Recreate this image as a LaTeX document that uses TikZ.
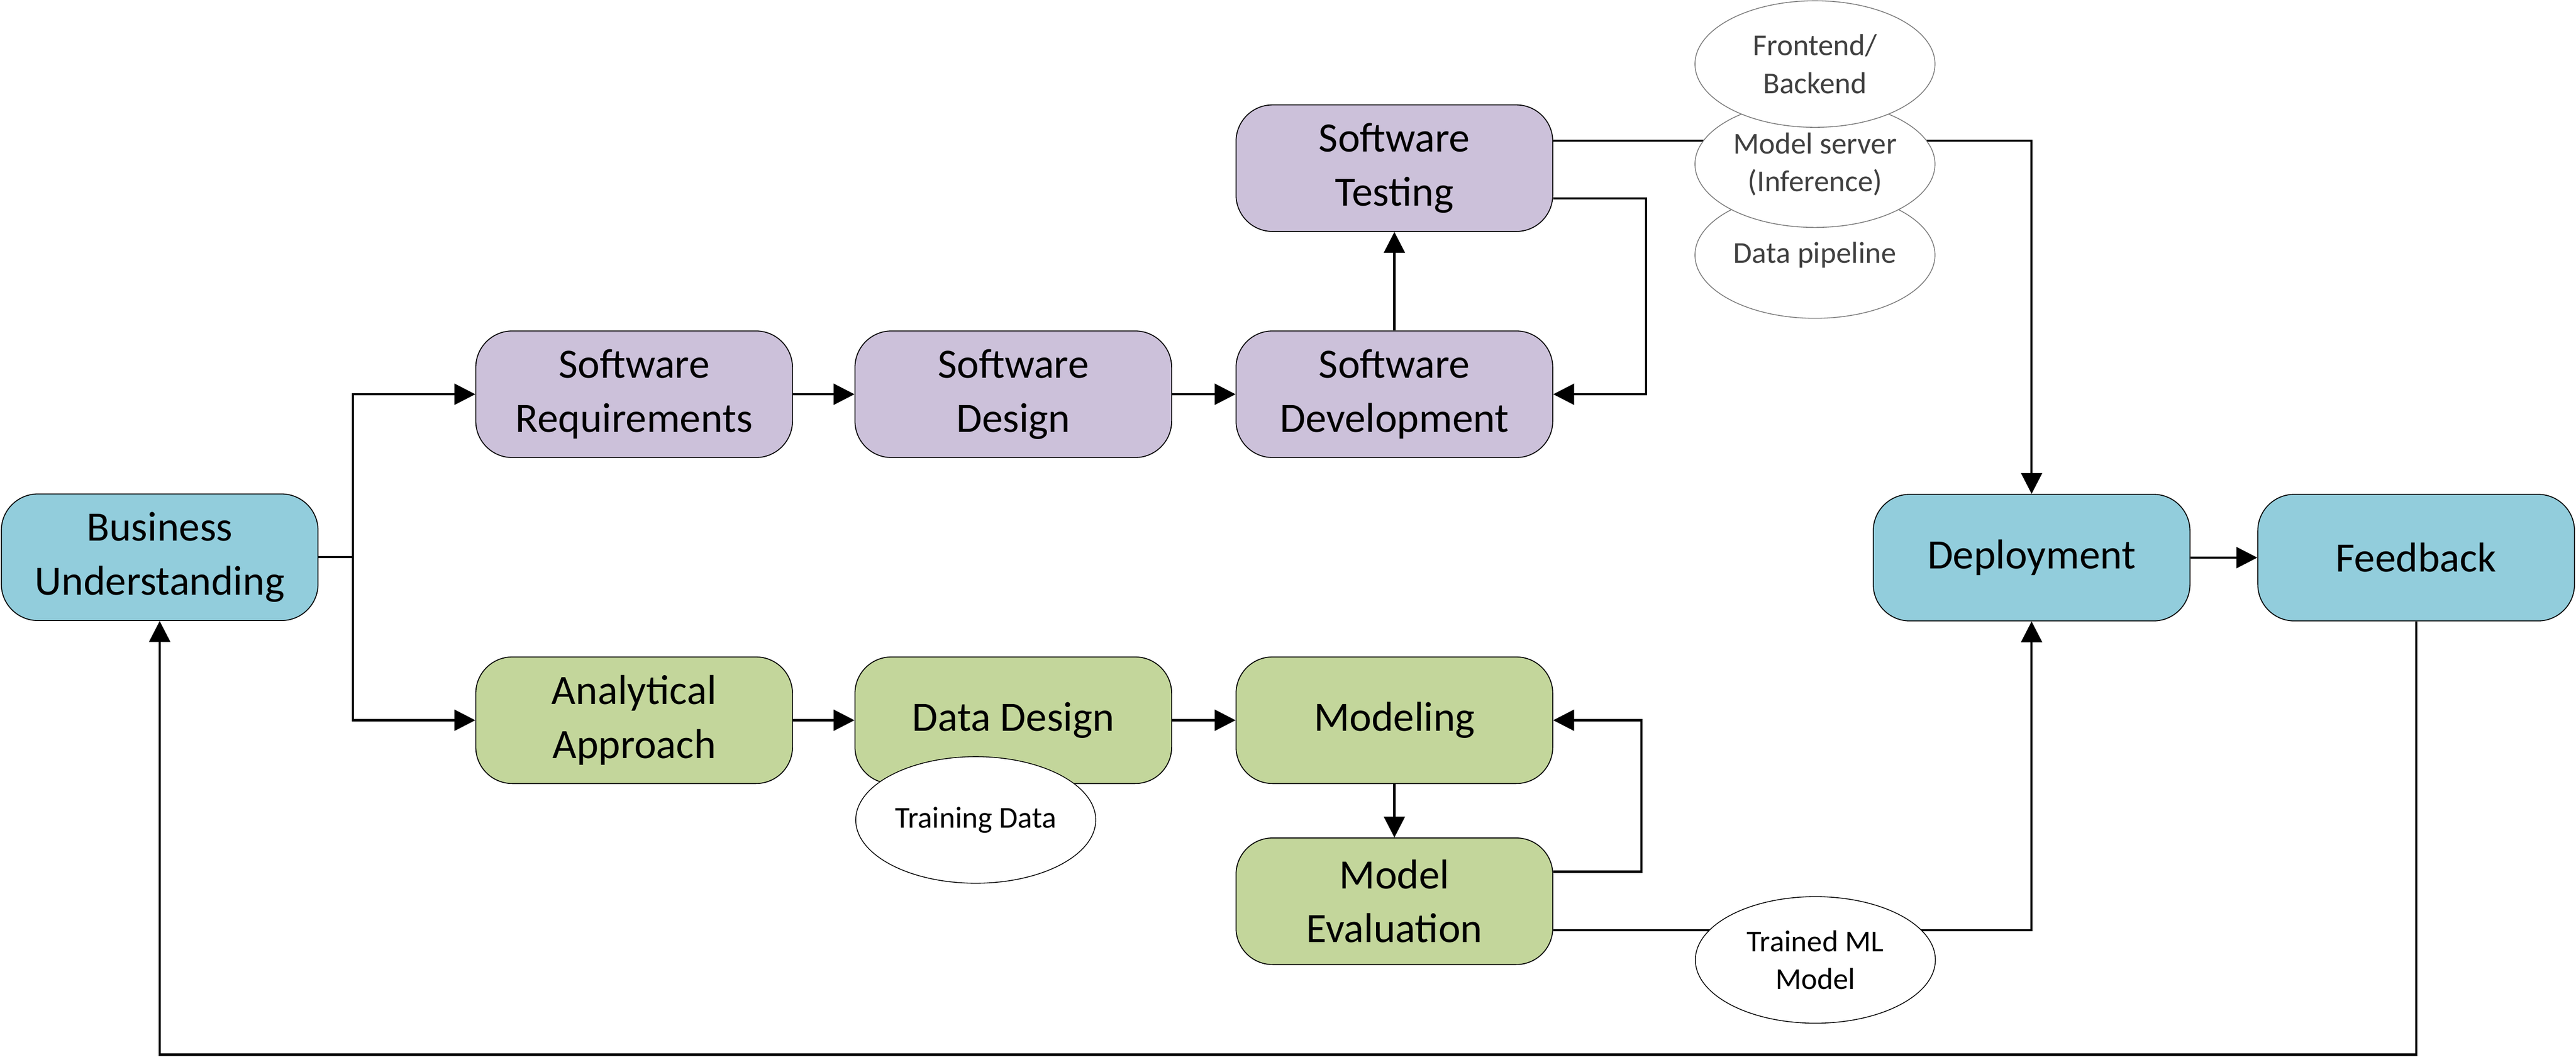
\documentclass[tikz,border=0pt]{standalone}
\usepackage{fontspec}
\setmainfont{Carlito}
\usetikzlibrary{arrows.meta,shapes.geometric,positioning}
\definecolor{mlpurple}{RGB}{204,193,218}
\definecolor{mlgreen}{RGB}{195,214,155}
\definecolor{mlblue}{RGB}{146,205,220}
\definecolor{mlgray}{RGB}{64,64,64}
\tikzstyle{arrow} = [line width=1.6pt,-{Triangle[length=15.5pt,width=15.5pt]}]
\tikzstyle{link} = [line width=1.6pt]
\tikzstyle{stage} = [draw, line width=0.7pt, rounded corners=0.95cm, minimum width=8.26cm, minimum height=3.3cm, align=center, font=\fontsize{31}{40}\selectfont]
\tikzstyle{artifact} = [ellipse, draw, fill=white, line width=0.6pt, minimum width=6.26cm, minimum height=3.3cm, inner sep=0pt, align=center, font=\fontsize{22.5}{28}\selectfont]

\begin{document}
\begin{tikzpicture}
\useasboundingbox (0,0) rectangle (67.19,-27.56);

% Stages
\node[stage, fill=mlblue] (bu) at (4.165,-14.53) {Business\\Understanding};
\node[stage, fill=mlpurple] (req) at (16.54,-10.28) {Software\\Requirements};
\node[stage, fill=mlpurple] (sd) at (26.43,-10.28) {Software\\Design};
\node[stage, fill=mlpurple] (dev) at (36.37,-10.28) {Software\\Development};
\node[stage, fill=mlpurple] (test) at (36.37,-4.385) {Software\\Testing};
\node[stage, fill=mlgreen] (ana) at (16.54,-18.78) {Analytical\\Approach};
\node[stage, fill=mlgreen] (dd) at (26.43,-18.78) {Data Design};
\node[stage, fill=mlgreen] (mod) at (36.37,-18.78) {Modeling};
\node[stage, fill=mlgreen] (eval) at (36.37,-23.50) {Model\\Evaluation};
\node[stage, fill=mlblue] (dep) at (52.99,-14.54) {Deployment};
\node[stage, fill=mlblue] (fb) at (63.02,-14.54) {Feedback};

% Connectors
\coordinate (split) at (9.2,-14.53);
\draw[link] (bu.east) -- (split);
\draw[arrow] (split) |- (req.west);
\draw[arrow] (split) |- (ana.west);
\draw[arrow] (req) -- (sd);
\draw[arrow] (sd) -- (dev);
\draw[arrow] (dev) -- (test);
\draw[arrow] ([yshift=-0.785cm]test.east) -- ++(2.42,0) |- (dev.east);
\draw[arrow] ([yshift=0.715cm]test.east) -| (dep.north);
\draw[arrow] (ana) -- (dd);
\draw[arrow] (dd) -- (mod);
\draw[arrow] (mod) -- (eval);
\draw[arrow] ([yshift=0.77cm]eval.east) -- ++(2.3,0) |- (mod.east);
\draw[arrow] ([yshift=-0.76cm]eval.east) -| (dep.south);
\draw[arrow] (dep) -- (fb);
\coordinate (fbturn) at (63.02,-27.50);
\draw[arrow] (fb.south) -- (fbturn) -| (bu.south);

% Artifacts
\node[artifact, draw=mlgray!70, text=mlgray] (dp) at (47.34,-6.65) {Data pipeline};
\node[artifact, draw=mlgray!70, text=mlgray] (ms) at (47.34,-4.28) {Model server\\(Inference)};
\node[artifact, draw=mlgray!70, text=mlgray] (fe) at (47.34,-1.67) {Frontend/\\Backend};
\node[artifact] (td) at (25.45,-21.38) {Training Data};
\node[artifact] (tm) at (47.35,-25.03) {Trained ML\\Model};
\end{tikzpicture}
\end{document}
